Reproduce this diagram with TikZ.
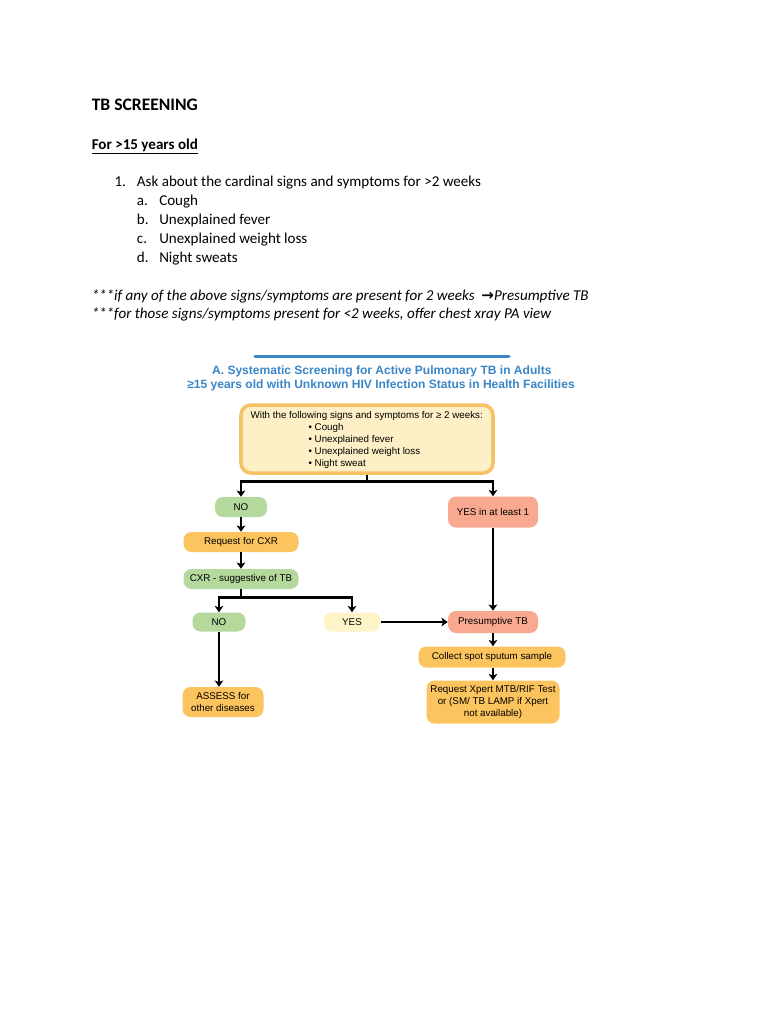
\documentclass[tikz,border=0pt]{standalone}
\usepackage{fontspec}
\setmainfont{Carlito}
\newfontfamily\flowfont{Liberation Sans}
\newfontfamily\symfont{DejaVu Sans}
\usetikzlibrary{calc, positioning, arrows.meta}
\newlength\pxu
\setlength\pxu{0.797pt}
\definecolor{xgreen}{HTML}{B5D89D}
\definecolor{xorange}{HTML}{FCC45E}
\definecolor{xsalmon}{HTML}{F9A98F}
\definecolor{xpale}{HTML}{FFF3C8}
\definecolor{xcream}{HTML}{FDF0C6}
\definecolor{xborder}{HTML}{F7C165}
\definecolor{xblue}{HTML}{3B86C7}
\tikzset{
	pagetext/.style = {inner sep=0pt, font=\fontsize{12}{14}\selectfont},
	flowbox/.style = {fill=#1, rounded corners=8\pxu, inner sep=0pt, align=center, font=\flowfont\fontsize{7.8}{9.4}\selectfont},
	flowtext/.style = {inner sep=0pt, font=\flowfont\fontsize{7.8}{9.4}\selectfont},
	flow/.style = {line width=2.3pt, -{Stealth[length=5pt, width=6.8pt, inset=1.2pt]}},
	link/.style = {line width=2.3pt},
}

\begin{document}
\begin{tikzpicture}[x=\pxu, y=-\pxu]
	\useasboundingbox[fill=white] (0,0) rectangle (768,1024);
	% page text
	\node[pagetext, anchor=base west, font=\bfseries\fontsize{14}{16}\selectfont] (heading) at (91.5,110.7) {TB SCREENING};
	\node[pagetext, anchor=base west, font=\bfseries\fontsize{12}{14}\selectfont] (agegroup) at (91.5,149.3) {\underline{For >15 years old}};
	\node[pagetext, anchor=base west] (num-1) at (114.3,186.7) {1.};
	\node[pagetext, anchor=base west] (ask) at (136.7,186.7) {Ask about the cardinal signs and symptoms for >2 weeks};
	\foreach \lbl/\txt [count=\i] in {a/Cough, b/Unexplained fever, c/Unexplained weight loss, d/Night sweats} {
		\node[pagetext, anchor=base west] (mark-\lbl) at (136.7,{186.7+18.9*\i}) {\lbl.};
		\node[pagetext, anchor=base west] (sign-\lbl) at (159,{186.7+18.9*\i}) {\txt};
	}
	\node[pagetext, anchor=base west, font=\itshape\fontsize{12}{14}\selectfont] (note-1) at (91.5,300.7) {***if any of the above signs/symptoms are present for 2 weeks ~{\symfont\upshape\bfseries →}Presumptive TB};
	\node[pagetext, anchor=base west, font=\itshape\fontsize{12}{14}\selectfont] (note-2) at (91.5,318.3) {***for those signs/symptoms present for <2 weeks, offer chest xray PA view};

	% flowchart title
	\draw[xblue, line width=2.4pt, line cap=round] (255,356) -- (509,356);
	\node[flowtext, anchor=base, text=xblue, font=\flowfont\bfseries\fontsize{9.6}{11}\selectfont] (title-a) at (381.8,374.3) {A. Systematic Screening for Active Pulmonary TB in Adults};
	\node[flowtext, anchor=base, text=xblue, font=\flowfont\bfseries\fontsize{9.6}{11}\selectfont] (title-b) at (381,388.7) {≥15 years old with Unknown HIV Infection Status in Health Facilities};

	% signs box
	\node[draw=xborder, fill=xcream, line width=2.8pt, rounded corners=10\pxu, minimum width=252\pxu, minimum height=68\pxu] (signs) at (367,439) {};
	\node[flowtext, anchor=base] (signs-head) at (366.7,418.7) {With the following signs and symptoms for ≥ 2 weeks:};
	\foreach \txt [count=\i] in {Cough, Unexplained fever, Unexplained weight loss, Night sweat} {
		\node[flowtext, anchor=base west] (item-\i) at (308.3,{419+11.8*\i}) {• \txt};
	}

	% boxes
	\node[flowbox=xgreen, minimum width=52\pxu, minimum height=20\pxu] (no1) at (241,507) {NO};
	\node[flowbox=xsalmon, minimum width=90\pxu, minimum height=31\pxu] (yes1) at (493,512) {YES in at least 1};
	\node[flowbox=xorange, minimum width=115\pxu, minimum height=20\pxu] (cxr) at (241,542) {Request for CXR};
	\node[flowbox=xgreen, minimum width=115\pxu, minimum height=20\pxu] (cxrtb) at (241,579) {CXR - suggestive of TB};
	\node[flowbox=xgreen, minimum width=53\pxu, minimum height=19\pxu] (no2) at (219,622) {NO};
	\node[flowbox=xpale, minimum width=57\pxu, minimum height=19\pxu] (yes2) at (352,622) {YES};
	\node[flowbox=xsalmon, minimum width=90\pxu, minimum height=22\pxu] (ptb) at (493,622) {Presumptive TB};
	\node[flowbox=xorange, minimum width=147\pxu, minimum height=21\pxu] (sputum) at (492,657) {Collect spot sputum sample};
	\node[flowbox=xorange, minimum width=133\pxu, minimum height=43\pxu] (xpert) at (493,702) {Request Xpert MTB/RIF Test\\or (SM/ TB LAMP if Xpert\\not available)};
	\node[flowbox=xorange, minimum width=81\pxu, minimum height=30\pxu] (assess) at (223,702) {ASSESS for\\other diseases};

	% connectors
	\coordinate (fork) at ($(signs.south)+(0,7)$);
	\coordinate (fork2) at ($(cxrtb.south)+(0,8)$);
	\draw[link] (signs.south) -- (fork);
	\draw[flow] (fork) -| (no1);
	\draw[flow] (fork) -| (yes1);
	\draw[flow] (no1) -- (cxr);
	\draw[flow] (cxr) -- (cxrtb);
	\draw[link] (cxrtb.south) -- (fork2);
	\draw[flow] (fork2) -| (no2);
	\draw[flow] (fork2) -| (yes2);
	\draw[flow] (yes2) -- (ptb);
	\draw[flow] (yes1) -- (ptb);
	\draw[flow] (ptb) -- (sputum.north -| ptb);
	\draw[flow] (sputum.south -| xpert) -- (xpert);
	\draw[flow] (no2) -- (assess.north -| no2);
\end{tikzpicture}
\end{document}
